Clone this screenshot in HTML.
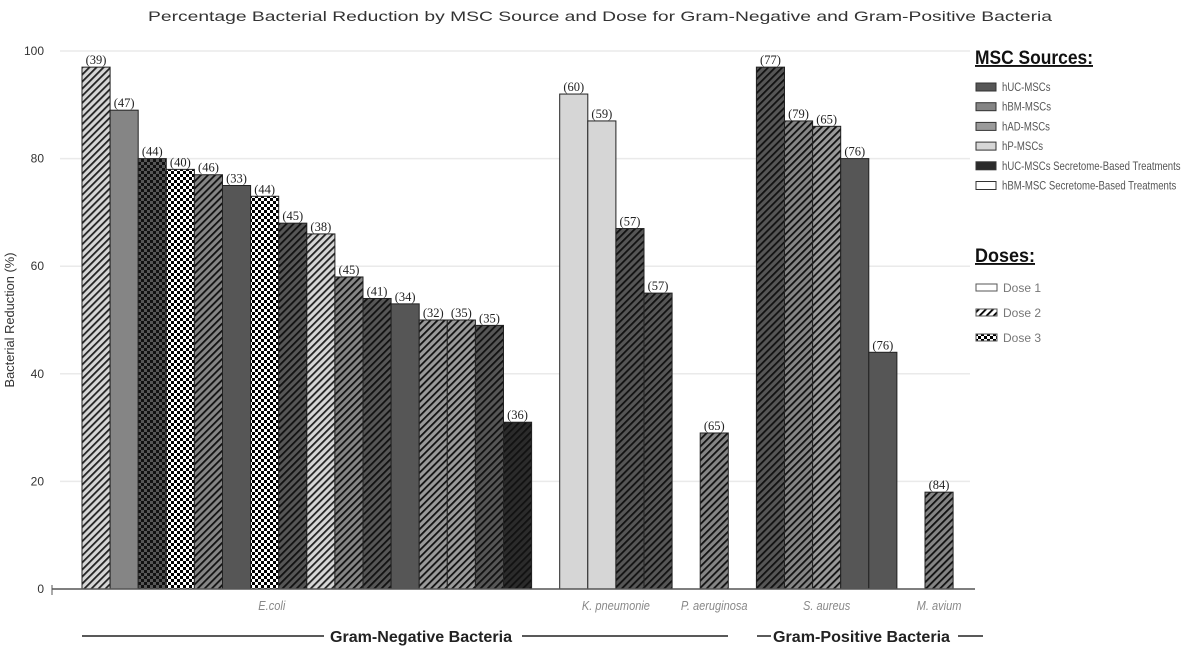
<!DOCTYPE html>
<html><head><meta charset="utf-8"><style>
body{margin:0;background:#fff;width:1200px;height:649px;overflow:hidden}
svg{display:block}
</style></head><body>
<svg id="chart" width="1200" height="649" xmlns="http://www.w3.org/2000/svg" font-family="Liberation Sans, sans-serif">
<defs></defs>
<g id="grid"></g><g id="bars"></g><g id="labels"></g><g id="axes"></g>
<text x="148" y="21" font-size="14" fill="#333" textLength="904" lengthAdjust="spacingAndGlyphs">Percentage Bacterial Reduction by MSC Source and Dose for Gram-Negative and Gram-Positive Bacteria</text>
<text transform="translate(14,320) rotate(-90)" text-anchor="middle" font-size="13" fill="#333" textLength="135" lengthAdjust="spacingAndGlyphs">Bacterial Reduction (%)</text>
<g>
<line x1="82" y1="636" x2="324" y2="636" stroke="#222" stroke-width="1.5"/>
<text x="330" y="642" font-size="16" font-weight="bold" fill="#222" textLength="182" lengthAdjust="spacingAndGlyphs">Gram-Negative Bacteria</text>
<line x1="522" y1="636" x2="728" y2="636" stroke="#222" stroke-width="1.5"/>
</g>
<g>
<line x1="757" y1="636" x2="771" y2="636" stroke="#222" stroke-width="1.5"/>
<text x="773" y="642" font-size="16" font-weight="bold" fill="#222" textLength="177" lengthAdjust="spacingAndGlyphs">Gram-Positive Bacteria</text>
<line x1="958" y1="636" x2="983" y2="636" stroke="#222" stroke-width="1.5"/>
</g>
<g id="legend"></g>
</svg>
<script>
const categories=["E.coli","K. pneumonie","P. aeruginosa","S. aureus","M. avium"];
const groupCounts=[16,4,1,5,1];
const values=[97,89,80,78,77,75,73,68,66,58,54,53,50,50,49,31, 92,87,67,55, 29, 97,87,86,80,44, 18];
const studyLabels=["(39)","(47)","(44)","(40)","(46)","(33)","(44)","(45)","(38)","(45)","(41)","(34)","(32)","(35)","(35)","(36)","(60)","(59)","(57)","(57)","(65)","(77)","(79)","(65)","(76)","(76)","(84)"];
const sources=[3,1,0,5,1,0,5,0,3,1,0,0,2,2,0,4, 3,3,0,0, 1, 0,1,2,0,0, 1];
const doses=[2,1,3,3,2,1,3,2,2,2,2,1,2,2,2,2, 1,1,2,2, 2, 2,2,2,1,1, 2];
const yTicks=[0,20,40,60,80,100];
const sourceNames=["hUC-MSCs","hBM-MSCs","hAD-MSCs","hP-MSCs","hUC-MSCs Secretome-Based Treatments","hBM-MSC Secretome-Based Treatments"];
const doseNames=["Dose 1","Dose 2","Dose 3"];

const NS="http://www.w3.org/2000/svg";
const svg=document.getElementById('chart');
const srcCol=["#565656","#858585","#9a9a9a","#d6d6d6","#2b2b2b","#ffffff"];
const y0=589,yTop=51,x0=82,slot=28.1;
const yS=v=>y0-(v/100)*(y0-yTop);
const xS=i=>x0+i*slot;
function mk(t,a,p){const e=document.createElementNS(NS,t);for(const k in a)e.setAttribute(k,a[k]);(p||svg).appendChild(e);return e;}
const defs=svg.querySelector('defs');
function pat(s,d){
  const id='p'+s+'_'+d;
  if(document.getElementById(id))return id;
  const base=srcCol[s];
  const dark=s===5?"#000":(s===3?"#222":"#111");
  const p=mk('pattern',{id:id,patternUnits:'userSpaceOnUse',width:d===2?5:6,height:d===2?5:6},defs);
  if(d===2){p.setAttribute('patternTransform','rotate(45)');mk('rect',{width:5,height:5,fill:base},p);mk('rect',{x:0,y:0,width:1.8,height:5,fill:dark},p);}
  else{mk('rect',{width:6,height:6,fill:base},p);mk('rect',{x:0,y:0,width:3,height:3,fill:dark},p);mk('rect',{x:3,y:3,width:3,height:3,fill:dark},p);}
  return id;
}
function fillFor(s,d){return d===1?srcCol[s]:'url(#'+pat(s,d)+')';}
const g=document.getElementById('grid');
yTicks.forEach(t=>{
  if(t>0){const l=mk('line',{x1:60,x2:970,y1:yS(t),y2:yS(t),stroke:'#eaeaea','stroke-width':1.5},g);
  
  }
  const tx=mk('text',{x:44,y:yS(t)+4,'text-anchor':'end','font-size':12,fill:'#333'},g);
  tx.textContent=t;
  
  
});
const bg=document.getElementById('bars'),lg=document.getElementById('labels');
let bi=0,pos=0;
groupCounts.forEach((n,ci)=>{
  const start=pos;
  for(let k=0;k<n;k++){
    const v=values[bi],x=xS(pos);
    const r=mk('rect',{x:x,y:yS(v),width:slot,height:y0-yS(v),fill:fillFor(sources[bi],doses[bi]),stroke:'#222','stroke-width':1},bg);
    
    
    const t=mk('text',{x:x+slot/2,y:yS(v)-3,'text-anchor':'middle','font-size':12.5,'font-family':'Liberation Serif, serif',fill:'#222'},lg);
    t.textContent=studyLabels[bi];
    
    
    bi++;pos++;
  }
  let cx=(xS(start)+xS(pos))/2; if(ci===0)cx-=35;
  const ct=mk('text',{x:cx,y:610,'text-anchor':'middle','font-size':13,'font-style':'italic',fill:'#888',transform:'translate('+cx+',0) scale(0.85,1) translate('+(-cx)+',0)'},lg);
  ct.textContent=categories[ci];
  
  
  pos++;
});
const ax=document.getElementById('axes');
const xa=mk('line',{x1:52,x2:975,y1:y0,y2:y0,stroke:'#555','stroke-width':1.5},ax);


mk('line',{x1:52,x2:52,y1:y0-4,y2:y0+6,stroke:'#555'},ax);
const L=document.getElementById('legend');
function lt(x,y,s,txt,extra){const t=mk('text',Object.assign({x:x,y:y,'font-size':s,fill:'#555'},extra||{}),L);t.textContent=txt;return t;}
const h1=lt(975,64,19,"MSC Sources:",{'font-weight':'bold',fill:'#111','text-decoration':'underline',textLength:118,lengthAdjust:'spacingAndGlyphs'});


sourceNames.forEach((n,i)=>{
  const y=90+i*19.7;
  const r=mk('rect',{x:976,y:y-7,width:20,height:8,fill:srcCol[i],stroke:'#333'},L);
  
  
  const t=lt(1002,y+1,12,n,{transform:'translate(1002,0) scale(0.8,1) translate(-1002,0)'});
  
  
});
const h2=lt(975,262,19,"Doses:",{'font-weight':'bold',fill:'#111','text-decoration':'underline',textLength:60,lengthAdjust:'spacingAndGlyphs'});


doseNames.forEach((n,i)=>{
  const y=290+i*25;
  const r=mk('rect',{x:976,y:y-6,width:21,height:7,fill:fillFor(5,i+1),stroke:'#555'},L);
  
  
  const t=lt(1003,y+2,12,n,{fill:'#777'});
  
  
});
</script>
</body></html>
